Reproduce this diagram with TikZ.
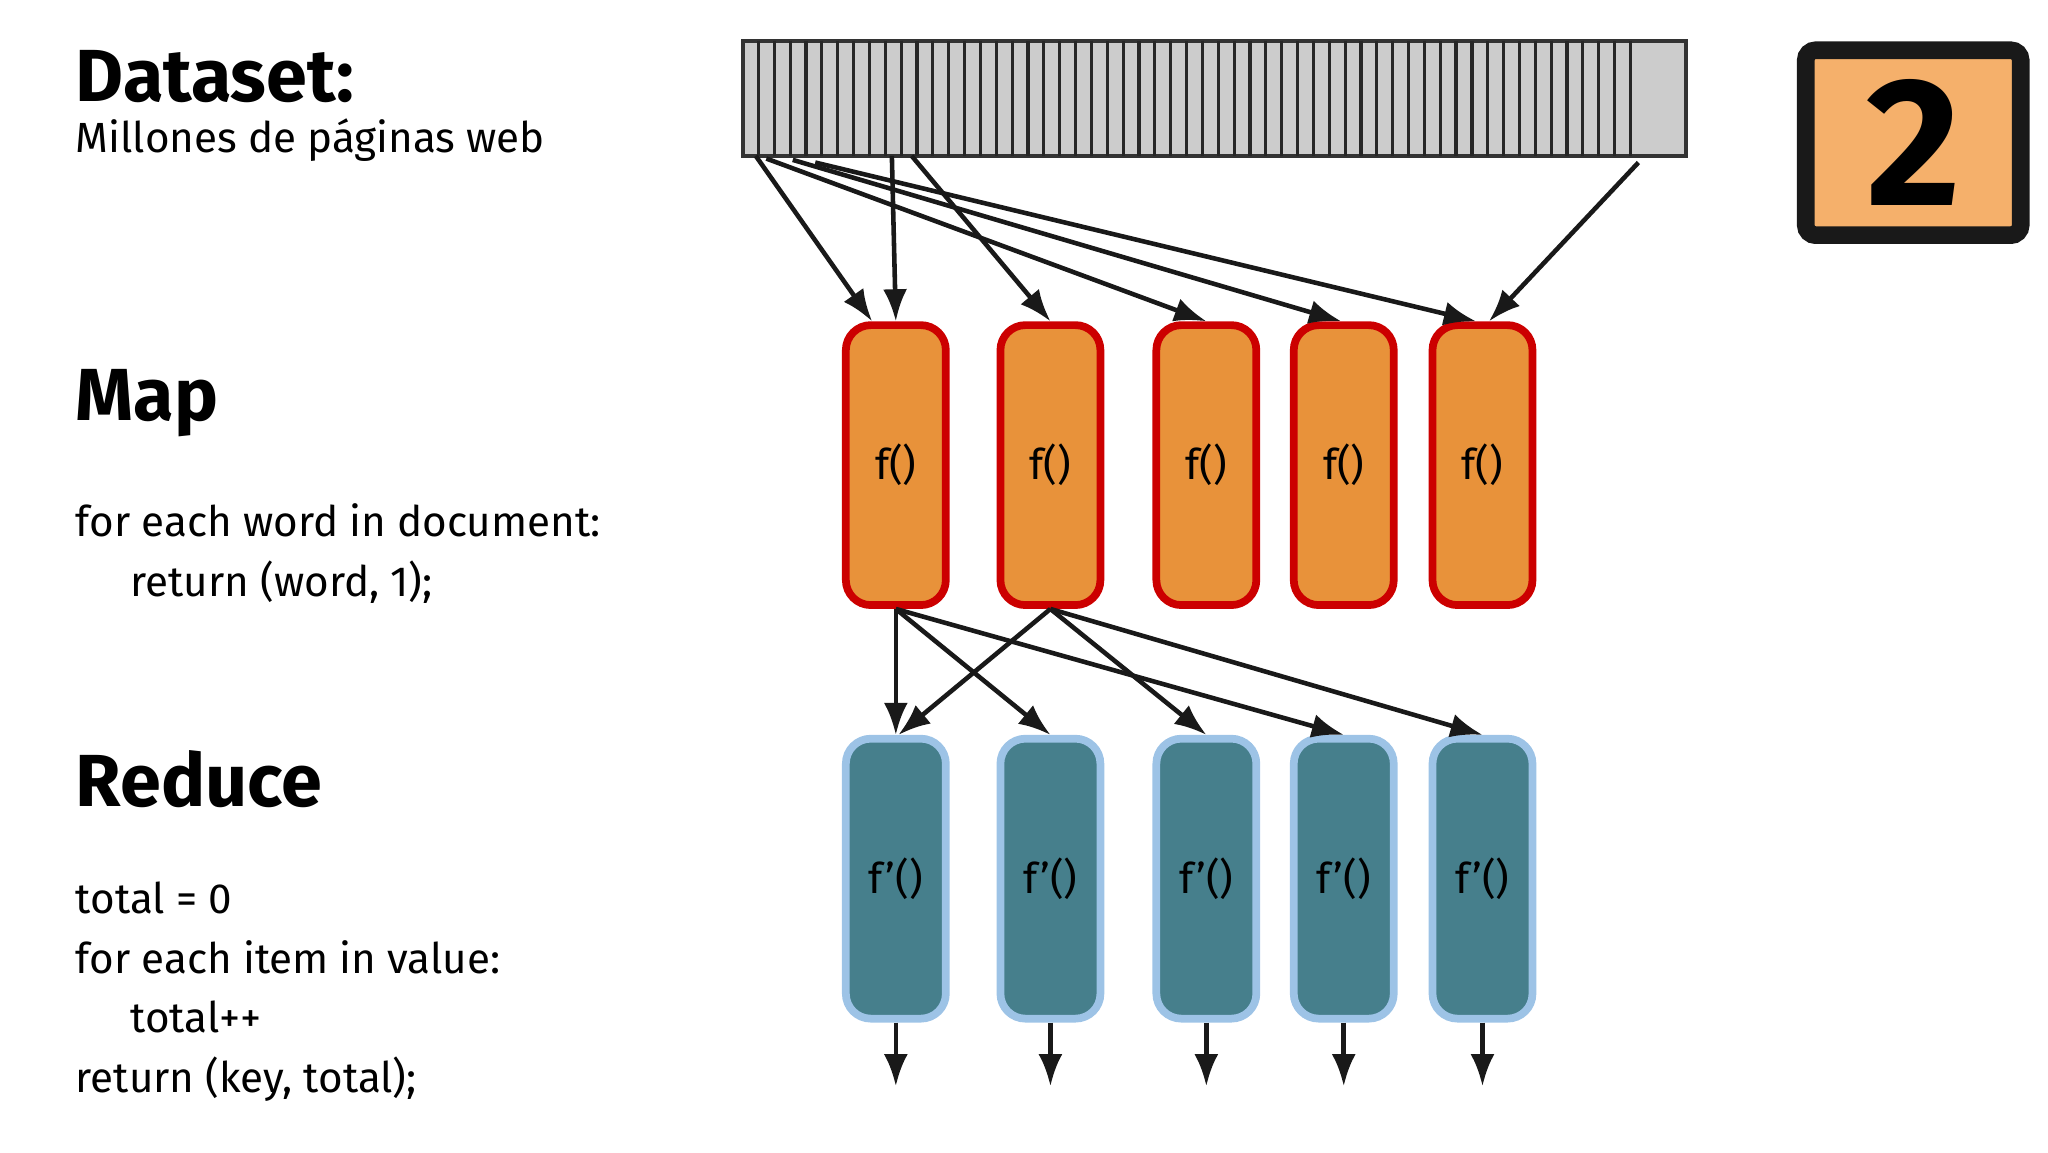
\documentclass[tikz,border=0pt]{standalone}
\usepackage{fontspec}
\setmainfont{Fira Sans}
\usetikzlibrary{calc,arrows.meta,positioning}
\definecolor{maporange}{HTML}{E8923A}
\definecolor{mapred}{HTML}{CC0000}
\definecolor{redteal}{HTML}{467F8C}
\definecolor{redblue}{HTML}{9DC3E6}
\definecolor{badge}{HTML}{F5B06B}
\begin{document}
\begin{tikzpicture}[x=0.013213cm,y=-0.013213cm,>={Latex[length=3.2mm,width=2.4mm]}]

\tikzset{mapnode/.style={draw=mapred,fill=maporange,line width=2.2pt,rounded corners=2.5mm,minimum width=1.0cm,minimum height=2.8cm,inner sep=0pt,font=\large},
rednode/.style={draw=redblue,fill=redteal,line width=2.2pt,rounded corners=2.5mm,minimum width=1.0cm,minimum height=2.8cm,inner sep=0pt,font=\large},
arr/.style={->,line width=1.3pt,black!90},
heading/.style={anchor=west,font=\bfseries\fontsize{21}{25}\selectfont},
body/.style={anchor=north west,align=left,font=\fontsize{12}{17}\selectfont}}

\useasboundingbox (0,0) rectangle (1550,872);

% Dataset bar
\node (bar) [draw=black!80,fill=black!20,line width=1.2pt,minimum width=9.43cm,minimum height=1.15cm,inner sep=0pt] at (919,74.5) {};
\foreach \x in {574,586,...,1234} \draw[line width=0.9pt,black!85] (\x,31) -- (\x,118); % stripes

% Badge
\node (badge) [draw=black!90,fill=badge,line width=5pt,rounded corners=1mm,minimum width=2.15cm,minimum height=1.85cm,font=\bfseries\fontsize{52}{52}\selectfont] at (1448,108) {2};

% Map and reduce nodes
\foreach \n/\x in {1/678,2/795,3/913,4/1017,5/1122} {
  \node (m\n) [mapnode] at (\x,352) {f()};
  \node (r\n) [rednode] at (\x,665) {f’()};
  \coordinate (o\n) at (\x,822);
  \draw[arr] (r\n.south) -- (o\n);
}

% Bar origins
\coordinate (b1) at (572,118);
\coordinate (b2) at (675,118);
\coordinate (b3) at (690,118);
\coordinate (b4) at (580,120);
\coordinate (b5) at (600,121);
\coordinate (b6) at (617,123);
\coordinate (b7) at (1240,123);

% Edges
\draw[arr] (b1) -- ($(m1.north)+(-18,0)$);
\draw[arr] (b2) -- (m1.north);
\draw[arr] (b3) -- (m2.north);
\draw[arr] (b4) -- ($(m3.north)+(0,0)$);
\draw[arr] (b5) -- ($(m4.north)+(-2,0)$);
\draw[arr] (b6) -- ($(m5.north)+(-5,0)$);
\draw[arr] (b7) -- ($(m5.north)+(5,0)$);

\draw[arr] (m1.south) -- (r1.north);
\draw[arr] (m1.south) -- (r2.north);
\draw[arr] (m1.south) -- (r4.north);
\draw[arr] (m2.south) -- ($(r1.north)+(2,0)$);
\draw[arr] (m2.south) -- (r3.north);
\draw[arr] (m2.south) -- (r5.north);

% Left texts
\node (dataset) [heading] at (48,58) {Dataset:};
\node (datasetText) [body,anchor=west] at (48,106) {Millones de páginas web};
\node (map) [heading] at (48,305) {Map};
\node (mapText) [body] at (48,372) {for each word in document:\\\hspace{1.3em}return (word, 1);};
\node (reduce) [heading] at (48,590) {Reduce};
\node (reduceText) [body] at (48,658) {total = 0\\for each item in value:\\\hspace{1.3em}total++\\return (key, total);};

\end{tikzpicture}
\end{document}
